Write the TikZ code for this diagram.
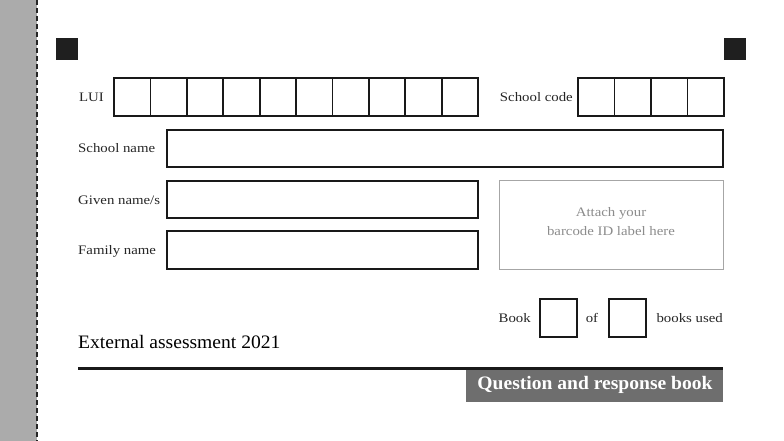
\documentclass[tikz,border=0pt]{standalone}
\usepackage{fontspec}
\setmainfont{Liberation Serif}
\newfontfamily\widefont[FakeStretch=1.14]{Liberation Serif}
\newfontfamily\midfont[FakeStretch=1.03]{Liberation Serif}
\begin{document}
\begin{tikzpicture}[x=1pt,y=-1pt,
  lbl/.style={font=\widefont\fontsize{13}{15}\selectfont,text=black!85,inner sep=0pt},
  fbox/.style={draw=black!90,line width=1.8pt},
  regmark/.style={fill=black!88,draw=none}]
\useasboundingbox (0,0) rectangle (784,441);
\fill[white] (0,0) rectangle (784,441);
\fill[black!33] (0,0) rectangle (37,441);
\draw[black!85,line width=1.5pt,dash pattern=on 5pt off 3pt] (37,0) -- (37,441);
\fill[regmark] (56,38) rectangle (78,60);
\fill[regmark] (724,38) rectangle (746,60);
% LUI
\node[lbl,anchor=east] (lui) at (104,97) {LUI};
\foreach \i in {0,...,9} {
  \draw[fbox] ({114+\i*36.4},78) rectangle ({114+(\i+1)*36.4},116);
}
\node[lbl,anchor=east] (sc) at (573,97) {School code};
\foreach \i in {0,...,3} {
  \draw[fbox] ({578+\i*36.5},78) rectangle ({578+(\i+1)*36.5},116);
}
\node[lbl,anchor=west] (sn) at (78,148) {School name};
\draw[fbox] (167,130) rectangle (723,167);
\node[lbl,anchor=west] (gn) at (78,200) {Given name/s};
\draw[fbox] (167,181) rectangle (478,218);
\node[lbl,anchor=west] (fn) at (78,251) {Family name};
\draw[fbox] (167,231) rectangle (478,269);
\draw[black!35,line width=0.8pt] (499,180) rectangle (723,269);
\node[lbl,text=black!45,align=center,font=\widefont\fontsize{13}{19}\selectfont] (bc) at (611,222) {Attach your\\barcode ID label here};
% book
\node[lbl,anchor=east] (bk) at (531,318) {Book};
\draw[fbox] (540,299) rectangle (577,337);
\node[lbl] (of) at (592,318) {of};
\draw[fbox] (609,299) rectangle (646,337);
\node[lbl,anchor=east] (bu) at (723,318) {books used};
\node[anchor=west,inner sep=0pt,font=\midfont\fontsize{19}{22}\selectfont] (ea) at (78,342) {External assessment 2021};
\draw[black!90,line width=3pt] (78,368) -- (723,368);
\fill[black!57] (466,369.5) rectangle (723,402);
\node[text=white,font=\midfont\bfseries\fontsize{19}{22}\selectfont,inner sep=0pt] (qr) at (595,385) {Question and response book};
\end{tikzpicture}
\end{document}
